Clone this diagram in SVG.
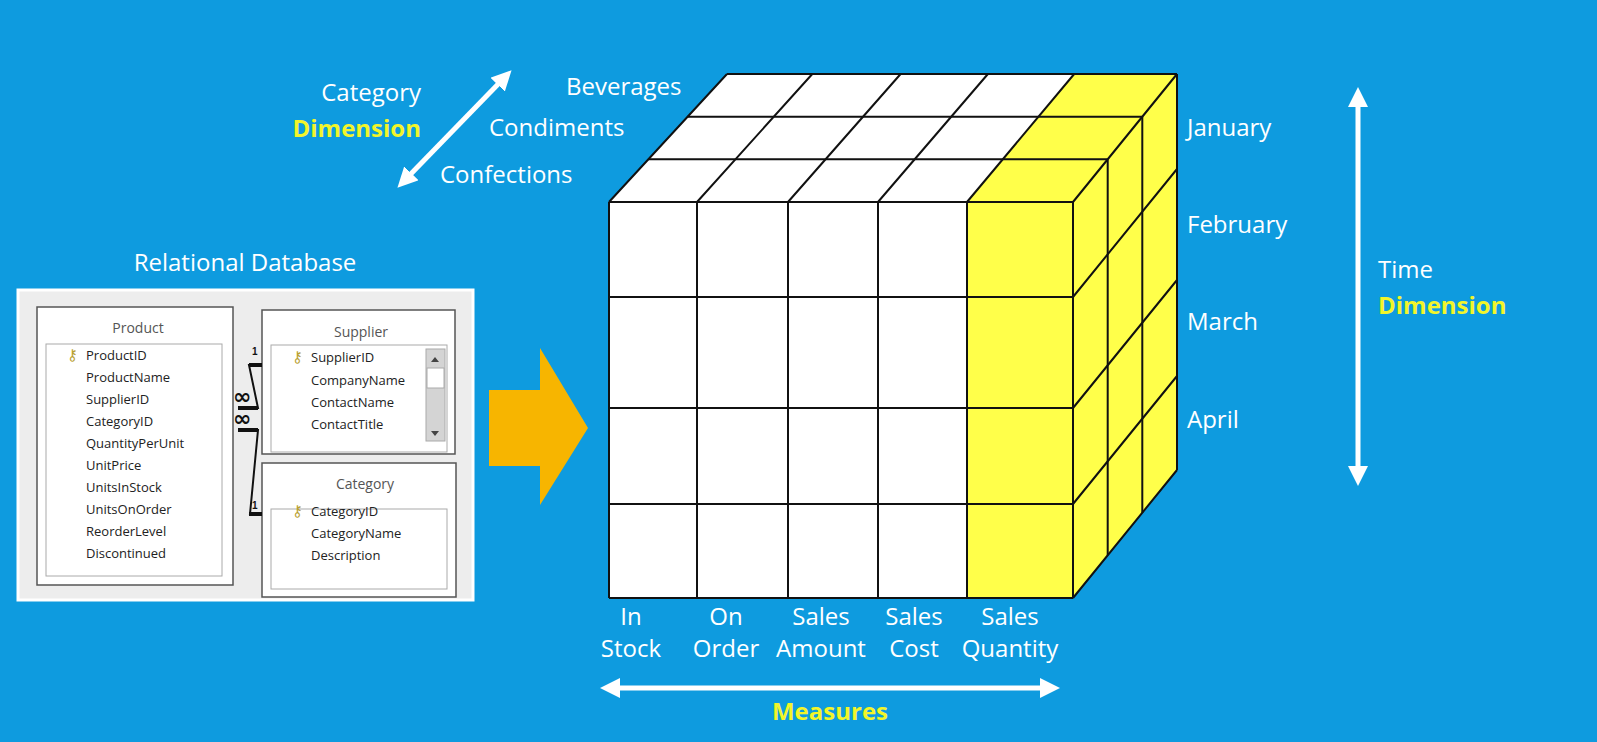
<svg xmlns="http://www.w3.org/2000/svg" width="1597" height="742" viewBox="0 0 1597 742">
<defs>
<style>
.w{fill:#fff;font-family:"Open Sans","Liberation Sans",sans-serif;font-size:24px}
.y{fill:#F2F52A;font-family:"Open Sans","Liberation Sans",sans-serif;font-size:24px;font-weight:bold}
.s{fill:#222;font-family:"Open Sans","Liberation Sans",sans-serif;font-size:13px}
.t{fill:#555;font-family:"Open Sans","Liberation Sans",sans-serif;font-size:14px}
.g{stroke:#111;stroke-width:2;fill:none}
.box{fill:#fff;stroke:#555;stroke-width:1.5}
.in{fill:#fff;stroke:#aaa;stroke-width:1}
.wa{stroke:#fff;stroke-width:5;fill:none}
.k{font-size:15px;fill:#b8a030;font-family:"DejaVu Sans",sans-serif;font-weight:bold}
</style>
<marker id="ah" viewBox="0 0 10 10" refX="6" refY="5" markerWidth="4" markerHeight="4" orient="auto-start-reverse"><path d="M0,0L10,5L0,10z" fill="#fff"/></marker>
</defs>
<rect width="1597" height="742" fill="#0E9BDF"/>

<g id="labels-category">
<text class="w" x="421" y="101" text-anchor="end">Category</text>
<text class="y" x="421" y="137" text-anchor="end">Dimension</text>
<text class="w" x="566" y="95">Beverages</text>
<text class="w" x="489" y="136">Condiments</text>
<text class="w" x="440" y="183">Confections</text>
</g>

<g id="db">
<text class="w" x="245" y="271" text-anchor="middle">Relational Database</text>
<rect x="18" y="290" width="455" height="310" fill="#EDEDED" stroke="#fff" stroke-width="3"/>
<g id="product">
<rect class="box" x="37" y="307" width="196" height="278"/>
<text class="t" x="138" y="333" text-anchor="middle">Product</text>
<rect class="in" x="46" y="344" width="176" height="232"/>
<text class="k" x="67" y="360">⚷</text>
<text class="s" x="86" y="360">ProductID</text>
<text class="s" x="86" y="382">ProductName</text>
<text class="s" x="86" y="404">SupplierID</text>
<text class="s" x="86" y="426">CategoryID</text>
<text class="s" x="86" y="448">QuantityPerUnit</text>
<text class="s" x="86" y="470">UnitPrice</text>
<text class="s" x="86" y="492">UnitsInStock</text>
<text class="s" x="86" y="514">UnitsOnOrder</text>
<text class="s" x="86" y="536">ReorderLevel</text>
<text class="s" x="86" y="558">Discontinued</text>
</g>
<g id="supplier">
<rect class="box" x="262" y="310" width="193" height="144"/>
<text class="t" x="361" y="337" text-anchor="middle">Supplier</text>
<rect class="in" x="271" y="345" width="176" height="107"/>
<rect x="426" y="349" width="19" height="92" fill="#d4d4d4" stroke="#aaa"/>
<rect x="427" y="368" width="17" height="20" fill="#fff" stroke="#aaa"/>
<path d="M431,362l4,-5l4,5z M431,431l4,5l4,-5z" fill="#444"/>
<text class="k" x="292" y="362">⚷</text>
<text class="s" x="311" y="362">SupplierID</text>
<text class="s" x="311" y="385">CompanyName</text>
<text class="s" x="311" y="407">ContactName</text>
<text class="s" x="311" y="429">ContactTitle</text>
</g>
<g id="category">
<rect class="box" x="262" y="463" width="194" height="134"/>
<text class="t" x="365" y="489" text-anchor="middle">Category</text>
<rect class="in" x="271" y="509" width="176" height="80"/>
<text class="k" x="292" y="516">⚷</text>
<text class="s" x="311" y="516">CategoryID</text>
<text class="s" x="311" y="538">CategoryName</text>
<text class="s" x="311" y="560">Description</text>
</g>
<g id="relations" stroke="#111" fill="none">
<path d="M262,365H249L258,408H238" stroke-width="2"/>
<path d="M262,365H249M258,408H238M238,430H258M249,514H262" stroke-width="4"/>
<path d="M238,430H258L250,514H262" stroke-width="2"/>
<text x="252" y="355" font-size="10" font-weight="bold" fill="#111" stroke="none" font-family="Liberation Sans,sans-serif">1</text>
<text x="252" y="509" font-size="10" font-weight="bold" fill="#111" stroke="none" font-family="Liberation Sans,sans-serif">1</text>
<text x="233" y="404" font-size="22" font-weight="bold" fill="#111" stroke="none" font-family="DejaVu Sans,sans-serif">∞</text>
<text x="233" y="426" font-size="22" font-weight="bold" fill="#111" stroke="none" font-family="DejaVu Sans,sans-serif">∞</text>
</g>
</g>

<g id="big-arrow">
<path d="M489,390H540V348L588,428L540,505V466H489Z" fill="#F7B500"/>
</g>

<g id="cube">
<rect x="609" y="202" width="358" height="396" fill="#fff"/>
<rect x="967" y="202" width="106" height="396" fill="#FFFF4A"/>
<polygon points="609,202 967,202 1074.2,74 727,74" fill="#fff"/>
<polygon points="967,202 1073,202 1177,74 1074.2,74" fill="#FFFF4A"/>
<polygon points="1073,202 1177,74 1177,470 1073,598" fill="#FFFF4A"/>
<g class="g">
<path d="M609,202H1073M609,297H1073M609,408H1073M609,504H1073M609,598H1073"/>
<path d="M609,202V598M697,202V598M788,202V598M878,202V598M967,202V598M1073,202V598"/>
<path d="M648.3,159.3H1107.7M687.7,116.7H1142.3M727,74H1177"/>
<path d="M609,202L727,74M697,202L812.3,74M788,202L900.6,74M878,202L987.9,74M967,202L1074.2,74M1073,202L1177,74"/>
<path d="M1107.7,159.3V555.3M1142.3,116.7V512.7M1177,74V470"/>
<path d="M1073,297L1177,169M1073,408L1177,280M1073,504L1177,376M1073,598L1177,470"/>
</g>
</g>

<g id="labels-time">
<text class="w" x="1187" y="136">January</text>
<text class="w" x="1187" y="233">February</text>
<text class="w" x="1187" y="330">March</text>
<text class="w" x="1187" y="428">April</text>
<text class="w" x="1378" y="278">Time</text>
<text class="y" x="1378" y="314">Dimension</text>
</g>

<g id="labels-measures" text-anchor="middle">
<text class="w" x="631" y="625">In</text><text class="w" x="631" y="657">Stock</text>
<text class="w" x="726" y="625">On</text><text class="w" x="726" y="657">Order</text>
<text class="w" x="821" y="625">Sales</text><text class="w" x="821" y="657">Amount</text>
<text class="w" x="914" y="625">Sales</text><text class="w" x="914" y="657">Cost</text>
<text class="w" x="1010" y="625">Sales</text><text class="w" x="1010" y="657">Quantity</text>
<text class="y" x="830" y="720">Measures</text>
</g>

<g id="connectors">
<line class="wa" x1="506" y1="76" x2="403" y2="182" marker-start="url(#ah)" marker-end="url(#ah)"/>
<line class="wa" x1="1358" y1="95" x2="1358" y2="478" marker-start="url(#ah)" marker-end="url(#ah)"/>
<line class="wa" x1="608" y1="688" x2="1052" y2="688" marker-start="url(#ah)" marker-end="url(#ah)"/>
</g>
</svg>
